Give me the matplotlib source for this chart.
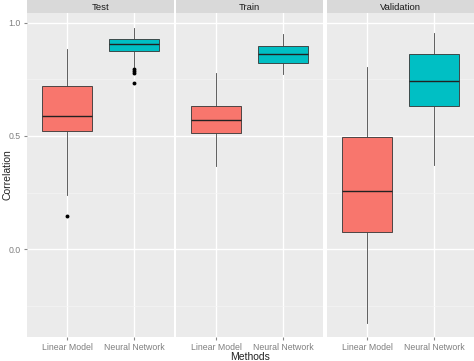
import matplotlib as mpl
import matplotlib.pyplot as plt

mpl.use("Agg")
plt.rcParams["font.family"] = ["Liberation Sans", "DejaVu Sans"]

panels = ["Test", "Train", "Validation"]
methods = ["Linear Model", "Neural Network"]
fills = ["#F8766D", "#00BFC4"]

# (whislo, q1, median, q3, whishi, fliers) per panel, per method
stats = {
    "Test": [
        (0.239, 0.522, 0.588, 0.721, 0.885, [0.147]),
        (0.805, 0.876, 0.908, 0.930, 0.978, [0.795, 0.787, 0.779, 0.735]),
    ],
    "Train": [
        (0.368, 0.513, 0.570, 0.633, 0.778, []),
        (0.774, 0.823, 0.863, 0.896, 0.950, []),
    ],
    "Validation": [
        (-0.327, 0.075, 0.255, 0.494, 0.805, []),
        (0.372, 0.633, 0.743, 0.863, 0.955, []),
    ],
}

W, H = 474, 361
fig = plt.figure(figsize=(W / 100, H / 100), dpi=100)
lefts = [27, 176, 327]
pw = 147
bottom, top = 337, 13
strip_h = 13

for i, name in enumerate(panels):
    ax = fig.add_axes([lefts[i] / W, 1 - bottom / H, pw / W, (bottom - top) / H])
    ax.set_facecolor("#EBEBEB")
    for s in ax.spines.values():
        s.set_visible(False)

    bxp_stats = []
    for lo, q1, med, q3, hi, fl in stats[name]:
        bxp_stats.append(dict(whislo=lo, q1=q1, med=med, q3=q3, whishi=hi, fliers=fl))
    bp = ax.bxp(bxp_stats, positions=[1, 2], widths=0.76, patch_artist=True,
                showcaps=False,
                boxprops=dict(edgecolor="#333333", linewidth=0.6),
                medianprops=dict(color="#222222", linewidth=1.0),
                whiskerprops=dict(color="#444444", linewidth=0.6),
                flierprops=dict(marker="o", markersize=1.8, markerfacecolor="black",
                                markeredgecolor="black", linestyle="none"))
    for patch, c in zip(bp["boxes"], fills):
        patch.set_facecolor(c)

    ax.set_xlim(0.4, 2.6)
    ax.set_ylim(-0.389, 1.044)
    ax.set_yticks([0.0, 0.5, 1.0])
    ax.set_yticks([-0.25, 0.25, 0.75], minor=True)
    ax.set_xticks([1, 2])
    ax.set_xticklabels(methods)
    ax.grid(True, which="major", color="white", linewidth=1.0)
    ax.grid(True, which="minor", axis="y", color="#F5F5F5", linewidth=0.5)
    ax.set_axisbelow(True)
    ax.tick_params(axis="both", which="major", length=2.5, color="#888888",
                   labelsize=6.3, labelcolor="#7F7F7F", pad=2)
    ax.tick_params(axis="both", which="minor", length=0)
    if i == 0:
        ax.set_yticklabels(["0.0", "0.5", "1.0"])
    else:
        ax.tick_params(axis="y", which="major", length=0, labelleft=False)

    sax = fig.add_axes([lefts[i] / W, 1 - strip_h / H, pw / W, strip_h / H])
    sax.set_facecolor("#D9D9D9")
    sax.set_xticks([])
    sax.set_yticks([])
    for s in sax.spines.values():
        s.set_visible(False)
    sax.text(0.5, 0.45, name, ha="center", va="center", fontsize=6.8,
             color="#1A1A1A", transform=sax.transAxes)

fig.text(8 / W, 1 - 175 / H, "Correlation", ha="center", va="center",
         rotation=90, fontsize=7.5, color="#222222")
fig.text(250 / W, 1 - 356.5 / H, "Methods", ha="center", va="center",
         fontsize=7.5, color="#222222")

fig.savefig("out.png", dpi=100)
